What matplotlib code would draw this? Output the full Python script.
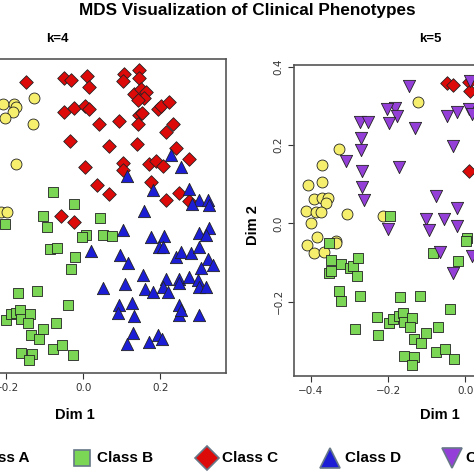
import matplotlib
matplotlib.use("Agg")
import matplotlib.pyplot as plt
from matplotlib.lines import Line2D

# ---- k=4 panel data ----
k4_A_x = [-0.21,-0.179,-0.175,-0.184,-0.203,-0.127,-0.132,-0.175,-0.214,-0.199]
k4_A_y = [0.307,0.307,0.299,0.286,0.269,0.32,0.256,0.154,0.031,0.031]
k4_B_x = [-0.078,-0.023,-0.106,-0.095,-0.203,0.043,0.007,0.052,0.074,-0.003,
          -0.087,-0.069,-0.021,-0.032,-0.171,-0.121,-0.041,-0.201,-0.188,-0.175,-0.165,-0.162,-0.139,-0.145,
          -0.136,-0.116,-0.106,-0.071,-0.078,-0.055,-0.028,-0.162,-0.133,-0.14]
k4_B_y = [0.082,0.052,0.02,-0.007,0.001,0.014,-0.028,-0.028,-0.031,-0.034,
          -0.065,-0.06,-0.085,-0.116,-0.175,-0.171,-0.207,-0.245,-0.23,-0.226,-0.219,-0.241,-0.23,-0.252,
          -0.283,-0.294,-0.269,-0.253,-0.318,-0.309,-0.334,-0.328,-0.331,-0.348]
k4_C_x = [-0.149,-0.049,-0.032,0.009,0.014,0.106,0.104,0.145,0.145,0.132,0.15,0.163,0.158,0.141,
          -0.049,-0.023,0.005,0.014,0.042,0.092,0.145,0.141,0.152,0.193,0.202,0.223,0.232,0.216,
          -0.035,0.068,0.139,0.242,0.005,0.102,0.102,0.171,0.189,0.208,0.274,0.035,0.068,0.176,
          0.249,0.215,0.274,-0.058,-0.023]
k4_C_y = [0.362,0.371,0.366,0.377,0.35,0.382,0.365,0.392,0.373,0.331,0.345,0.337,0.32,0.317,
          0.286,0.296,0.3,0.292,0.254,0.263,0.277,0.256,0.282,0.294,0.3,0.311,0.254,0.235,
          0.211,0.2,0.203,0.195,0.146,0.156,0.137,0.154,0.161,0.148,0.166,0.099,0.076,0.107,
          0.078,0.061,0.059,0.021,0.006]
k4_D_x = [0.228,0.254,0.113,0.182,0.275,0.3,0.282,0.323,0.327,0.158,0.104,0.176,0.21,0.301,0.327,0.319,
          0.02,0.095,0.115,0.198,0.206,0.241,0.254,0.279,0.301,0.323,0.336,0.305,0.154,0.215,0.249,
          0.275,0.299,0.052,0.108,0.161,0.182,0.206,0.219,0.249,0.301,0.32,0.093,0.126,0.089,0.132,
          0.249,0.249,0.254,0.301,0.128,0.193,0.204,0.17,0.113]
k4_D_y = [0.175,0.146,0.122,0.086,0.09,0.061,0.051,0.062,0.048,0.034,-0.016,-0.033,-0.031,-0.024,-0.011,-0.028,
          -0.068,-0.079,-0.099,-0.058,-0.058,-0.083,-0.071,-0.075,-0.058,-0.088,-0.105,-0.113,-0.13,-0.139,-0.139,
          -0.134,-0.143,-0.164,-0.153,-0.167,-0.173,-0.16,-0.173,-0.151,-0.16,-0.16,-0.207,-0.201,-0.226,-0.235,
          -0.207,-0.232,-0.219,-0.232,-0.279,-0.283,-0.292,-0.3,-0.306]

# ---- k=5 panel data ----
k5_A_x = [-0.327,-0.372,-0.37,-0.407,-0.391,-0.37,-0.355,-0.361,-0.413,-0.387,-0.374,-0.4,-0.307,-0.212,
          -0.123,-0.383,-0.335,-0.409,-0.391,-0.367,-0.335]
k5_A_y = [0.191,0.149,0.106,0.098,0.062,0.066,0.066,0.053,0.032,0.029,0.029,0.002,0.023,0.019,
          0.309,-0.034,-0.045,-0.056,-0.075,-0.073,-0.05]
k5_B_x = [-0.195,0.004,-0.353,-0.347,-0.353,-0.348,-0.321,-0.298,-0.292,-0.278,-0.28,-0.327,-0.321,-0.273,
          -0.169,-0.118,-0.228,-0.198,-0.187,-0.172,-0.161,-0.159,-0.138,-0.144,-0.286,-0.225,-0.133,
          -0.114,-0.103,-0.071,-0.039,-0.083,-0.02,-0.159,-0.133,-0.138,-0.075,-0.052,-0.028,0.003]
k5_B_y = [0.019,-0.037,-0.051,-0.094,-0.126,-0.122,-0.105,-0.114,-0.108,-0.088,-0.135,-0.173,-0.199,-0.185,
          -0.188,-0.185,-0.239,-0.255,-0.244,-0.238,-0.229,-0.253,-0.243,-0.265,-0.269,-0.285,-0.296,
          -0.306,-0.28,-0.265,-0.22,-0.077,-0.097,-0.34,-0.343,-0.362,-0.33,-0.32,-0.347,-0.045]
k5_C_x = [-0.047,-0.032,0.009,0.013,0.009]
k5_C_y = [0.359,0.354,0.362,0.339,0.134]
k5_E_x = [-0.146,-0.181,-0.204,-0.176,-0.198,-0.273,-0.252,-0.271,-0.271,-0.129,-0.31,-0.172,-0.267,
          -0.267,-0.262,-0.047,-0.022,-0.032,-0.077,-0.022,-0.103,-0.056,-0.022,-0.095,-0.2,0.013,
          0.009,0.017,-0.066,-0.032,0.017]
k5_E_y = [0.35,0.294,0.292,0.274,0.256,0.258,0.258,0.217,0.188,0.245,0.16,0.143,0.134,
          0.093,0.059,0.275,0.284,0.198,0.07,0.04,0.01,0.01,-0.007,-0.017,-0.014,0.365,
          0.292,0.279,-0.073,-0.126,-0.084]

class_names = ["Class A", "Class B", "Class C", "Class D", "Class E"]
colors = {"A": "#f6ef6e", "B": "#7bd655", "C": "#dd0a0a", "D": "#1c1ed6", "E": "#9440d8"}
markers = {"A": "o", "B": "s", "C": "D", "D": "^", "E": "v"}
sizes = {"A": 62, "B": 52, "C": 48, "D": 78, "E": 78}

fig = plt.figure(figsize=(4.74, 4.74), dpi=100)
fig.patch.set_facecolor("white")

def style(ax):
    for s in ax.spines.values():
        s.set_color("#555555"); s.set_linewidth(1.2)
    ax.tick_params(labelsize=7.5, colors="#333333", length=4, labelcolor="#333333")

def sc(ax, x, y, k):
    ax.scatter(x, y, s=sizes[k], marker=markers[k], c=colors[k], edgecolors="#222222",
               linewidths=0.6, zorder=3)

ax1 = fig.add_axes([-0.165, 0.213, 0.641, 0.662])
sc(ax1, k4_A_x, k4_A_y, "A"); sc(ax1, k4_B_x, k4_B_y, "B")
sc(ax1, k4_C_x, k4_C_y, "C"); sc(ax1, k4_D_x, k4_D_y, "D")
ax1.set_xlim(-0.42, 0.37); ax1.set_ylim(-0.38, 0.42)
ax1.set_xticks([-0.4, -0.2, 0.0, 0.2]); ax1.set_yticks([])
style(ax1)

ax2 = fig.add_axes([0.620, 0.207, 0.641, 0.656])
sc(ax2, k5_A_x, k5_A_y, "A"); sc(ax2, k5_B_x, k5_B_y, "B")
sc(ax2, k5_C_x, k5_C_y, "C"); sc(ax2, k5_E_x, k5_E_y, "E")
ax2.set_xlim(-0.444, 0.343); ax2.set_ylim(-0.39, 0.405)
ax2.set_xticks([-0.4, -0.2, 0.0, 0.2]); ax2.set_yticks([-0.2, 0.0, 0.2, 0.4])
for t in ax2.get_yticklabels():
    t.set_rotation(90); t.set_va("center")
style(ax2)

fig.text(0.521, 0.977, "MDS Visualization of Clinical Phenotypes", ha="center", va="center",
         fontsize=12.3, fontweight="bold", family="Liberation Sans")
fig.text(0.122, 0.918, "k=4", ha="center", va="center", fontsize=9.5, fontweight="bold", family="Liberation Sans")
fig.text(0.908, 0.918, "k=5", ha="center", va="center", fontsize=9.5, fontweight="bold", family="Liberation Sans")
fig.text(0.158, 0.124, "Dim 1", ha="center", va="center", fontsize=10.5, fontweight="bold", family="Liberation Sans")
fig.text(0.927, 0.124, "Dim 1", ha="center", va="center", fontsize=10.5, fontweight="bold", family="Liberation Sans")
fig.text(0.533, 0.525, "Dim 2", ha="center", va="center", rotation=90, fontsize=10.5, fontweight="bold", family="Liberation Sans")

# legend row
leg_keys = ["A", "B", "C", "D", "E"]
leg_mx = [-0.085, 0.173, 0.437, 0.696, 0.953]
for k, mx, name in zip(leg_keys, leg_mx, class_names):
    fig.add_artist(Line2D([mx], [0.034], marker=markers[k], markersize=14 if k in "DE" else 12,
                          markerfacecolor=colors[k], markeredgecolor="#667788", markeredgewidth=1.2,
                          linestyle="none", transform=fig.transFigure))
    fig.text(mx + 0.031, 0.034, name, ha="left", va="center",
             fontsize=11, fontweight="bold", family="Liberation Sans")

fig.savefig("out.png", dpi=100, facecolor="white")
